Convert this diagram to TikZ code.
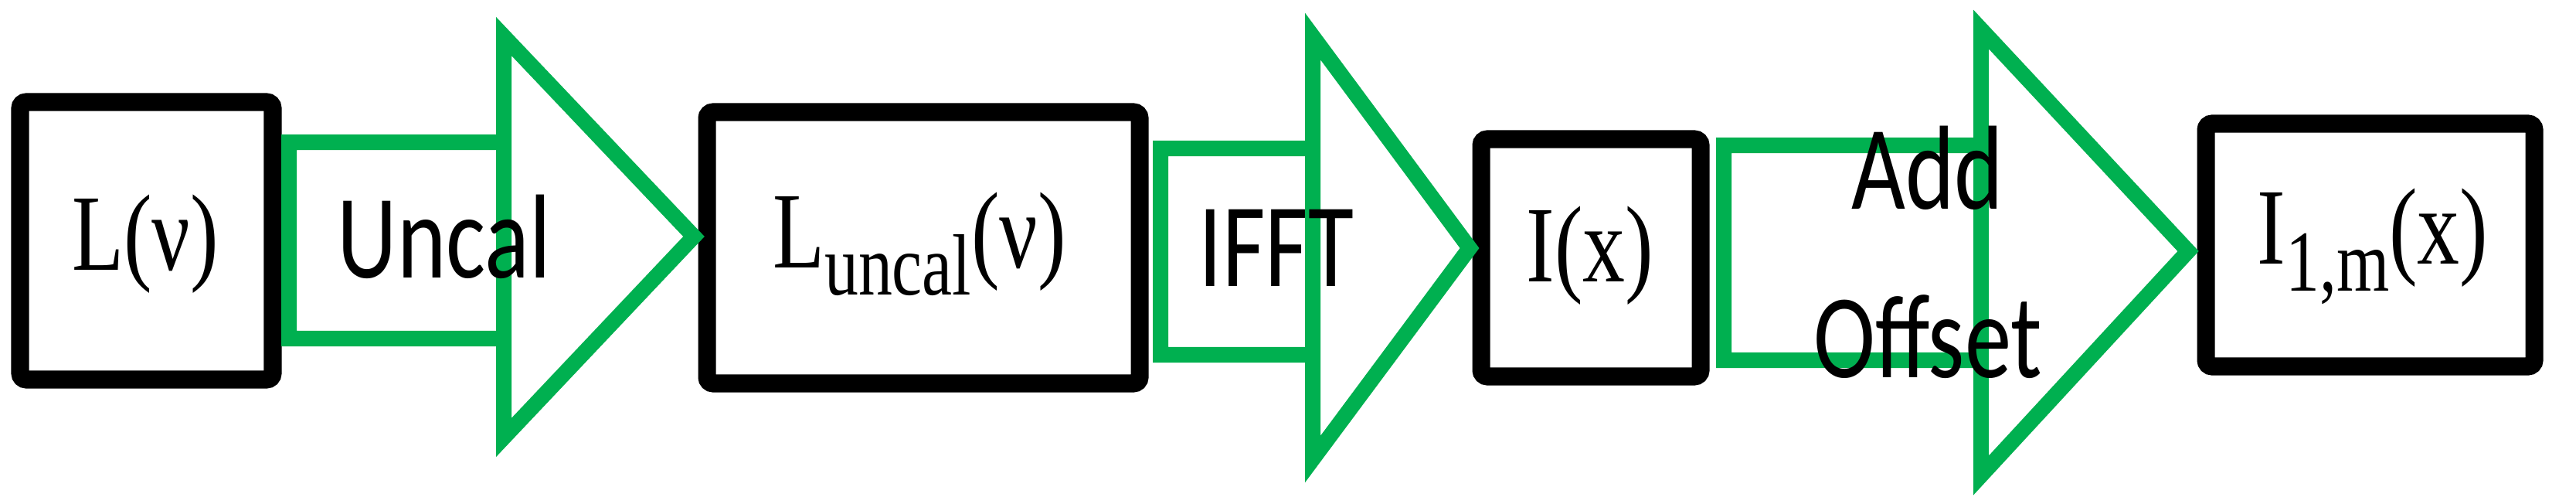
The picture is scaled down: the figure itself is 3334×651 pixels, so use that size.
\documentclass[tikz,border=0pt]{standalone}
\usepackage{fontspec}
\setmainfont{Liberation Serif}
\newfontfamily\lblfont{Carlito}
\definecolor{grn}{RGB}{0,176,80}
\begin{document}
\begin{tikzpicture}[x=0.01cm,y=0.01cm,
  blk/.style={draw=black,line width=0.23cm,rounded corners=0.08cm,fill=white},
  garrow/.style={draw=grn,line width=0.2cm,fill=white,line join=miter},
  mtxt/.style={font=\fontsize{40}{46}\selectfont,inner sep=0,xscale=0.78},
  ltxt/.style={font=\lblfont\fontsize{44}{62}\selectfont,inner sep=0,align=center,xscale=0.78}]
\useasboundingbox (0,0) rectangle (3334,651);
% boxes
\draw[blk] (26,160) rectangle (353,519);
\node[mtxt] (b1) at (188,335) {L(ν)};
\draw[blk] (915,155) rectangle (1475,506);
\node[mtxt] (b2) at (1190,335) {L\raisebox{-0.25em}{\fontsize{32}{34}\selectfont uncal}(ν)};
\draw[blk] (1917,164) rectangle (2201,471);
\node[mtxt] (b3) at (2058,320) {I(x)};
\draw[blk] (2855,177) rectangle (3280,491);
\node[mtxt] (b4) at (3071,332) {I\raisebox{-0.25em}{\fontsize{32}{34}\selectfont 1,m}(x)};
% arrows
\draw[garrow] (374,213) -- (652,213) -- (652,604) -- (898,345) -- (652,85) -- (652,467) -- (374,467) -- cycle;
\node[ltxt] (a1) at (575,345) {Uncal};
\draw[garrow] (1502,192) -- (1699,192) -- (1699,604) -- (1902,330) -- (1699,57) -- (1699,459) -- (1502,459) -- cycle;
\node[ltxt] (a2) at (1652,330) {IFFT};
\draw[garrow] (2231,185) -- (2564,185) -- (2564,613) -- (2832,326) -- (2564,36) -- (2564,463) -- (2231,463) -- cycle;
\node[ltxt] (a3) at (2495,325) {Add\\Offset};
\end{tikzpicture}
\end{document}
